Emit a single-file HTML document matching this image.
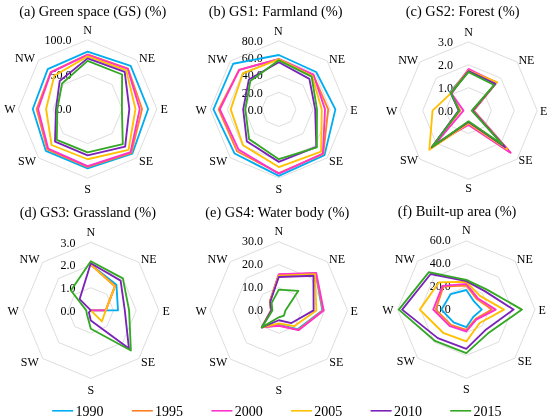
<!DOCTYPE html><html><head><meta charset="utf-8"><title>Radar charts</title>
<style>html,body{margin:0;padding:0;background:#fff}svg{display:block}text{font-family:"Liberation Serif","Times New Roman",serif;fill:#000}.t{font-size:14.4px}.l{font-size:12px}.g{font-size:14px}</style></head><body>
<svg width="550" height="420" viewBox="0 0 550 420">
<rect width="550" height="420" fill="#fff"/>
<g>
<polygon points="87.60,74.40 112.07,84.53 122.20,109.00 112.07,133.47 87.60,143.60 63.13,133.47 53.00,109.00 63.13,84.53" fill="none" stroke="#d4d4d4" stroke-width="0.8"/>
<polygon points="87.60,39.80 136.53,60.07 156.80,109.00 136.53,157.93 87.60,178.20 38.67,157.93 18.40,109.00 38.67,60.07" fill="none" stroke="#d4d4d4" stroke-width="0.8"/>
<text class="l" x="71.6" y="113.2" text-anchor="end">0.0</text>
<text class="l" x="71.6" y="78.6" text-anchor="end">50.0</text>
<text class="l" x="71.6" y="44.0" text-anchor="end">100.0</text>
<polygon points="87.60,51.56 130.66,65.94 148.15,109.00 132.32,153.72 87.60,168.44 45.76,150.84 32.79,109.00 47.72,69.12" fill="none" stroke="#00ADF2" stroke-width="1.85" stroke-linejoin="round"/>
<polygon points="87.60,54.47 128.07,68.53 142.06,109.00 131.39,152.79 87.60,166.78 47.23,149.37 36.60,109.00 50.66,72.06" fill="none" stroke="#FF7F27" stroke-width="1.85" stroke-linejoin="round"/>
<polygon points="87.60,54.89 127.72,68.88 139.71,109.00 130.61,152.01 87.60,166.16 48.11,148.49 38.12,109.00 50.95,72.35" fill="none" stroke="#FF33CC" stroke-width="1.85" stroke-linejoin="round"/>
<polygon points="87.60,56.41 126.26,70.34 135.49,109.00 128.51,149.91 87.60,159.24 51.59,145.01 46.08,109.00 54.33,75.73" fill="none" stroke="#FFC000" stroke-width="1.85" stroke-linejoin="round"/>
<polygon points="87.60,58.35 124.69,71.91 129.33,109.00 125.13,146.53 87.60,155.36 55.01,141.59 55.98,109.00 59.66,81.06" fill="none" stroke="#7B22B8" stroke-width="1.85" stroke-linejoin="round"/>
<polygon points="87.60,60.91 122.10,74.50 121.92,109.00 122.78,144.18 87.60,152.46 56.77,139.83 57.29,109.00 62.06,83.46" fill="none" stroke="#33A823" stroke-width="1.85" stroke-linejoin="round"/>
<text class="l" x="87.6" y="34.3" text-anchor="middle">N</text>
<text class="l" x="139.1" y="62.0" text-anchor="start">NE</text>
<text class="l" x="160.6" y="113.3" text-anchor="start">E</text>
<text class="l" x="139.1" y="164.5" text-anchor="start">SE</text>
<text class="l" x="87.6" y="192.5" text-anchor="middle">S</text>
<text class="l" x="36.1" y="164.5" text-anchor="end">SW</text>
<text class="l" x="15.6" y="113.3" text-anchor="end">W</text>
<text class="l" x="35.1" y="62.0" text-anchor="end">NW</text>
<text class="t" x="92.8" y="15.9" text-anchor="middle">(a) Green space (GS) (%)</text>
</g>
<g>
<polygon points="278.80,92.28 290.91,97.29 295.93,109.40 290.91,121.51 278.80,126.53 266.69,121.51 261.68,109.40 266.69,97.29" fill="none" stroke="#d4d4d4" stroke-width="0.8"/>
<polygon points="278.80,75.15 303.02,85.18 313.05,109.40 303.02,133.62 278.80,143.65 254.58,133.62 244.55,109.40 254.58,85.18" fill="none" stroke="#d4d4d4" stroke-width="0.8"/>
<polygon points="278.80,58.03 315.13,73.07 330.18,109.40 315.13,145.73 278.80,160.78 242.47,145.73 227.43,109.40 242.47,73.07" fill="none" stroke="#d4d4d4" stroke-width="0.8"/>
<polygon points="278.80,40.90 327.24,60.96 347.30,109.40 327.24,157.84 278.80,177.90 230.36,157.84 210.30,109.40 230.36,60.96" fill="none" stroke="#d4d4d4" stroke-width="0.8"/>
<text class="l" x="262.7" y="113.6" text-anchor="end">0.0</text>
<text class="l" x="262.7" y="96.5" text-anchor="end">20.0</text>
<text class="l" x="262.7" y="79.4" text-anchor="end">40.0</text>
<text class="l" x="262.7" y="62.2" text-anchor="end">60.0</text>
<text class="l" x="262.7" y="45.1" text-anchor="end">80.0</text>
<polygon points="278.80,55.03 316.22,71.98 335.40,109.40 324.51,155.11 278.80,175.93 234.66,153.54 213.47,109.40 233.15,63.75" fill="none" stroke="#00ADF2" stroke-width="1.85" stroke-linejoin="round"/>
<polygon points="278.80,59.14 313.31,74.89 328.21,109.40 323.30,153.90 278.80,173.19 236.96,151.24 218.61,109.40 239.20,69.80" fill="none" stroke="#FF7F27" stroke-width="1.85" stroke-linejoin="round"/>
<polygon points="278.80,59.14 313.49,74.71 325.04,109.40 322.88,153.48 278.80,173.62 238.60,149.60 219.89,109.40 239.20,69.80" fill="none" stroke="#FF33CC" stroke-width="1.85" stroke-linejoin="round"/>
<polygon points="278.80,59.31 312.10,76.10 321.78,109.40 321.06,151.66 278.80,167.03 243.02,145.18 230.68,109.40 242.84,73.44" fill="none" stroke="#FFC000" stroke-width="1.85" stroke-linejoin="round"/>
<polygon points="278.80,62.31 309.38,78.82 315.19,109.40 316.34,146.94 278.80,161.89 246.83,141.37 243.18,109.40 248.89,79.49" fill="none" stroke="#7B22B8" stroke-width="1.85" stroke-linejoin="round"/>
<polygon points="278.80,60.34 311.62,76.58 316.99,109.40 316.82,147.42 278.80,159.15 249.07,139.13 245.32,109.40 250.34,80.94" fill="none" stroke="#33A823" stroke-width="1.85" stroke-linejoin="round"/>
<text class="l" x="278.3" y="35.2" text-anchor="middle">N</text>
<text class="l" x="329.1" y="63.2" text-anchor="start">NE</text>
<text class="l" x="350.3" y="113.7" text-anchor="start">E</text>
<text class="l" x="329.0" y="164.9" text-anchor="start">SE</text>
<text class="l" x="278.8" y="192.9" text-anchor="middle">S</text>
<text class="l" x="227.3" y="164.9" text-anchor="end">SW</text>
<text class="l" x="206.8" y="113.7" text-anchor="end">W</text>
<text class="l" x="227.6" y="63.2" text-anchor="end">NW</text>
<text class="t" x="275.6" y="16.0" text-anchor="middle">(b) GS1: Farmland (%)</text>
</g>
<g>
<polygon points="468.50,87.70 484.69,94.41 491.40,110.60 484.69,126.79 468.50,133.50 452.31,126.79 445.60,110.60 452.31,94.41" fill="none" stroke="#d4d4d4" stroke-width="0.8"/>
<polygon points="468.50,64.80 500.89,78.21 514.30,110.60 500.89,142.99 468.50,156.40 436.11,142.99 422.70,110.60 436.11,78.21" fill="none" stroke="#d4d4d4" stroke-width="0.8"/>
<polygon points="468.50,41.90 517.08,62.02 537.20,110.60 517.08,159.18 468.50,179.30 419.92,159.18 399.80,110.60 419.92,62.02" fill="none" stroke="#d4d4d4" stroke-width="0.8"/>
<text class="l" x="453.0" y="114.8" text-anchor="end">0.0</text>
<text class="l" x="453.0" y="91.9" text-anchor="end">1.0</text>
<text class="l" x="453.0" y="69.0" text-anchor="end">2.0</text>
<text class="l" x="453.0" y="46.1" text-anchor="end">3.0</text>
<polygon points="468.50,70.30 496.35,82.75 473.08,110.60 508.17,150.27 468.50,123.19 432.07,147.03 459.34,110.60 450.04,92.14" fill="none" stroke="#00ADF2" stroke-width="1.85" stroke-linejoin="round"/>
<polygon points="468.50,69.84 496.84,82.26 473.54,110.60 510.28,152.38 468.50,123.88 431.74,147.36 460.26,110.60 450.53,92.63" fill="none" stroke="#FF7F27" stroke-width="1.85" stroke-linejoin="round"/>
<polygon points="468.50,68.92 496.35,82.75 473.77,110.60 510.60,152.70 468.50,125.03 436.11,142.99 463.46,110.60 451.66,93.76" fill="none" stroke="#FF33CC" stroke-width="1.85" stroke-linejoin="round"/>
<polygon points="468.50,70.52 496.84,82.26 473.08,110.60 507.04,149.14 468.50,123.19 429.31,149.79 432.55,110.60 451.01,93.11" fill="none" stroke="#FFC000" stroke-width="1.85" stroke-linejoin="round"/>
<polygon points="468.50,71.21 495.22,83.88 472.62,110.60 505.26,147.36 468.50,122.05 431.74,147.36 458.65,110.60 451.01,93.11" fill="none" stroke="#7B22B8" stroke-width="1.85" stroke-linejoin="round"/>
<polygon points="468.50,72.13 494.08,85.02 471.71,110.60 502.34,144.44 468.50,121.36 432.07,147.03 459.11,110.60 451.01,93.11" fill="none" stroke="#33A823" stroke-width="1.85" stroke-linejoin="round"/>
<text class="l" x="468.5" y="36.1" text-anchor="middle">N</text>
<text class="l" x="518.4" y="64.1" text-anchor="start">NE</text>
<text class="l" x="539.9" y="114.9" text-anchor="start">E</text>
<text class="l" x="518.5" y="164.4" text-anchor="start">SE</text>
<text class="l" x="468.5" y="192.1" text-anchor="middle">S</text>
<text class="l" x="418.0" y="164.4" text-anchor="end">SW</text>
<text class="l" x="397.3" y="114.9" text-anchor="end">W</text>
<text class="l" x="418.2" y="64.3" text-anchor="end">NW</text>
<text class="t" x="462.7" y="16.0" text-anchor="middle">(c) GS2: Forest (%)</text>
</g>
<g>
<polygon points="90.80,287.73 106.83,294.37 113.47,310.40 106.83,326.43 90.80,333.07 74.77,326.43 68.13,310.40 74.77,294.37" fill="none" stroke="#d4d4d4" stroke-width="0.8"/>
<polygon points="90.80,265.07 122.86,278.34 136.13,310.40 122.86,342.46 90.80,355.73 58.74,342.46 45.47,310.40 58.74,278.34" fill="none" stroke="#d4d4d4" stroke-width="0.8"/>
<polygon points="90.80,242.40 138.88,262.32 158.80,310.40 138.88,358.48 90.80,378.40 42.72,358.48 22.80,310.40 42.72,262.32" fill="none" stroke="#d4d4d4" stroke-width="0.8"/>
<text class="l" x="75.6" y="314.6" text-anchor="end">0.0</text>
<text class="l" x="75.6" y="291.9" text-anchor="end">1.0</text>
<text class="l" x="75.6" y="269.3" text-anchor="end">2.0</text>
<text class="l" x="75.6" y="246.6" text-anchor="end">3.0</text>
<polyline points="90.80,264.61 116.44,284.76 118.00,310.40 90.80,310.40" fill="none" stroke="#00ADF2" stroke-width="1.85" stroke-linejoin="round"/>
<polyline points="90.80,264.61 115.16,286.04 105.76,310.40 90.80,310.40" fill="none" stroke="#FF7F27" stroke-width="1.85" stroke-linejoin="round"/>
<polyline points="90.80,264.61 114.84,286.36 105.76,310.40 90.80,310.40" fill="none" stroke="#FF33CC" stroke-width="1.85" stroke-linejoin="round"/>
<polyline points="90.80,264.61 114.84,286.36 105.76,310.40 101.86,321.46 90.80,310.40" fill="none" stroke="#FFC000" stroke-width="1.85" stroke-linejoin="round"/>
<polygon points="90.80,263.25 120.61,280.59 124.80,310.40 128.95,348.55 90.80,320.60 88.88,312.32 90.80,310.40 79.58,299.18" fill="none" stroke="#7B22B8" stroke-width="1.85" stroke-linejoin="round"/>
<polygon points="90.80,261.21 122.86,278.34 129.11,310.40 130.87,350.47 90.80,328.76 86.95,314.25 86.27,310.40 70.93,290.53" fill="none" stroke="#33A823" stroke-width="1.85" stroke-linejoin="round"/>
<text class="l" x="90.8" y="235.6" text-anchor="middle">N</text>
<text class="l" x="140.7" y="263.4" text-anchor="start">NE</text>
<text class="l" x="162.4" y="314.7" text-anchor="start">E</text>
<text class="l" x="141.0" y="365.9" text-anchor="start">SE</text>
<text class="l" x="90.8" y="393.9" text-anchor="middle">S</text>
<text class="l" x="38.8" y="365.9" text-anchor="end">SW</text>
<text class="l" x="18.8" y="314.7" text-anchor="end">W</text>
<text class="l" x="39.6" y="263.4" text-anchor="end">NW</text>
<text class="t" x="87.8" y="216.6" text-anchor="middle">(d) GS3: Grassland (%)</text>
</g>
<g>
<polygon points="278.80,287.50 294.99,294.21 301.70,310.40 294.99,326.59 278.80,333.30 262.61,326.59 255.90,310.40 262.61,294.21" fill="none" stroke="#d4d4d4" stroke-width="0.8"/>
<polygon points="278.80,264.60 311.19,278.01 324.60,310.40 311.19,342.79 278.80,356.20 246.41,342.79 233.00,310.40 246.41,278.01" fill="none" stroke="#d4d4d4" stroke-width="0.8"/>
<polygon points="278.80,241.70 327.38,261.82 347.50,310.40 327.38,358.98 278.80,379.10 230.22,358.98 210.10,310.40 230.22,261.82" fill="none" stroke="#d4d4d4" stroke-width="0.8"/>
<text class="l" x="262.9" y="313.8" text-anchor="end">0.0</text>
<text class="l" x="262.9" y="290.9" text-anchor="end">10.0</text>
<text class="l" x="262.9" y="268.0" text-anchor="end">20.0</text>
<text class="l" x="262.9" y="245.1" text-anchor="end">30.0</text>
<polygon points="278.80,274.90 315.72,273.48 322.31,310.40 297.58,329.18 278.80,324.60 261.80,327.40 271.01,310.40 269.89,301.49" fill="none" stroke="#00ADF2" stroke-width="1.85" stroke-linejoin="round"/>
<polygon points="278.80,274.68 315.88,273.32 323.00,310.40 298.23,329.83 278.80,325.28 261.80,327.40 271.24,310.40 269.89,301.49" fill="none" stroke="#FF7F27" stroke-width="1.85" stroke-linejoin="round"/>
<polygon points="278.80,274.22 316.21,272.99 323.68,310.40 298.56,330.16 278.80,325.74 261.80,327.40 271.01,310.40 269.89,301.49" fill="none" stroke="#FF33CC" stroke-width="1.85" stroke-linejoin="round"/>
<polygon points="278.80,275.59 314.91,274.29 316.36,310.40 294.51,326.11 278.80,323.45 261.80,327.40 271.01,310.40 269.89,301.49" fill="none" stroke="#FFC000" stroke-width="1.85" stroke-linejoin="round"/>
<polygon points="278.80,276.97 313.45,275.75 313.61,310.40 291.43,323.03 278.80,320.25 261.80,327.40 271.36,310.40 270.22,301.82" fill="none" stroke="#7B22B8" stroke-width="1.85" stroke-linejoin="round"/>
<polygon points="278.80,289.56 298.39,290.81 285.44,310.40 283.98,315.58 278.80,317.27 261.80,327.40 272.39,310.40 271.59,303.19" fill="none" stroke="#33A823" stroke-width="1.85" stroke-linejoin="round"/>
<text class="l" x="278.8" y="234.9" text-anchor="middle">N</text>
<text class="l" x="329.1" y="263.4" text-anchor="start">NE</text>
<text class="l" x="350.5" y="314.7" text-anchor="start">E</text>
<text class="l" x="329.3" y="365.9" text-anchor="start">SE</text>
<text class="l" x="278.8" y="393.9" text-anchor="middle">S</text>
<text class="l" x="227.3" y="365.9" text-anchor="end">SW</text>
<text class="l" x="206.8" y="314.7" text-anchor="end">W</text>
<text class="l" x="227.6" y="263.4" text-anchor="end">NW</text>
<text class="t" x="277.3" y="216.5" text-anchor="middle">(e) GS4: Water body (%)</text>
</g>
<g>
<polygon points="466.30,286.70 482.49,293.41 489.20,309.60 482.49,325.79 466.30,332.50 450.11,325.79 443.40,309.60 450.11,293.41" fill="none" stroke="#d4d4d4" stroke-width="0.8"/>
<polygon points="466.30,263.80 498.69,277.21 512.10,309.60 498.69,341.99 466.30,355.40 433.91,341.99 420.50,309.60 433.91,277.21" fill="none" stroke="#d4d4d4" stroke-width="0.8"/>
<polygon points="466.30,240.90 514.88,261.02 535.00,309.60 514.88,358.18 466.30,378.30 417.72,358.18 397.60,309.60 417.72,261.02" fill="none" stroke="#d4d4d4" stroke-width="0.8"/>
<text class="l" x="450.8" y="312.8" text-anchor="end">0.0</text>
<text class="l" x="450.8" y="289.9" text-anchor="end">20.0</text>
<text class="l" x="450.8" y="267.0" text-anchor="end">40.0</text>
<text class="l" x="450.8" y="244.1" text-anchor="end">60.0</text>
<polygon points="466.30,290.02 474.23,301.67 481.76,309.60 473.42,316.72 466.30,327.23 453.59,322.31 441.45,309.60 450.75,294.05" fill="none" stroke="#00ADF2" stroke-width="1.85" stroke-linejoin="round"/>
<polygon points="466.30,285.56 476.83,299.07 491.83,309.60 475.61,318.91 466.30,329.87 451.00,324.90 435.73,309.60 443.31,286.61" fill="none" stroke="#FF7F27" stroke-width="1.85" stroke-linejoin="round"/>
<polygon points="466.30,283.84 477.72,298.18 495.73,309.60 476.26,319.56 466.30,331.47 449.78,326.12 433.21,309.60 442.50,285.80" fill="none" stroke="#FF33CC" stroke-width="1.85" stroke-linejoin="round"/>
<polygon points="466.30,281.78 479.98,295.92 503.97,309.60 479.66,322.96 466.30,341.43 443.14,332.76 419.81,309.60 439.02,282.32" fill="none" stroke="#FFC000" stroke-width="1.85" stroke-linejoin="round"/>
<polygon points="466.30,281.09 484.76,291.14 513.59,309.60 486.14,329.44 466.30,348.87 437.80,338.10 402.18,309.60 430.68,273.98" fill="none" stroke="#7B22B8" stroke-width="1.85" stroke-linejoin="round"/>
<polygon points="466.30,279.83 486.54,289.36 521.95,309.60 489.13,332.43 466.30,353.11 434.97,340.93 398.86,309.60 428.89,272.19" fill="none" stroke="#33A823" stroke-width="1.85" stroke-linejoin="round"/>
<text class="l" x="466.3" y="233.6" text-anchor="middle">N</text>
<text class="l" x="516.8" y="262.6" text-anchor="start">NE</text>
<text class="l" x="538.5" y="313.9" text-anchor="start">E</text>
<text class="l" x="517.8" y="365.1" text-anchor="start">SE</text>
<text class="l" x="466.3" y="393.1" text-anchor="middle">S</text>
<text class="l" x="414.8" y="365.1" text-anchor="end">SW</text>
<text class="l" x="393.6" y="313.9" text-anchor="end">W</text>
<text class="l" x="414.8" y="262.6" text-anchor="end">NW</text>
<text class="t" x="457.1" y="216.2" text-anchor="middle">(f) Built-up area (%)</text>
</g>
<line x1="52.2" y1="410.8" x2="73.2" y2="410.8" stroke="#00ADF2" stroke-width="1.6"/>
<text class="g" x="75.5" y="415.6">1990</text>
<line x1="131.8" y1="410.8" x2="152.8" y2="410.8" stroke="#FF7F27" stroke-width="1.6"/>
<text class="g" x="155.1" y="415.6">1995</text>
<line x1="211.4" y1="410.8" x2="232.4" y2="410.8" stroke="#FF33CC" stroke-width="1.6"/>
<text class="g" x="234.7" y="415.6">2000</text>
<line x1="291.0" y1="410.8" x2="312.0" y2="410.8" stroke="#FFC000" stroke-width="1.6"/>
<text class="g" x="314.3" y="415.6">2005</text>
<line x1="370.6" y1="410.8" x2="391.6" y2="410.8" stroke="#7B22B8" stroke-width="1.6"/>
<text class="g" x="393.9" y="415.6">2010</text>
<line x1="450.2" y1="410.8" x2="471.2" y2="410.8" stroke="#33A823" stroke-width="1.6"/>
<text class="g" x="473.5" y="415.6">2015</text>
</svg></body></html>
